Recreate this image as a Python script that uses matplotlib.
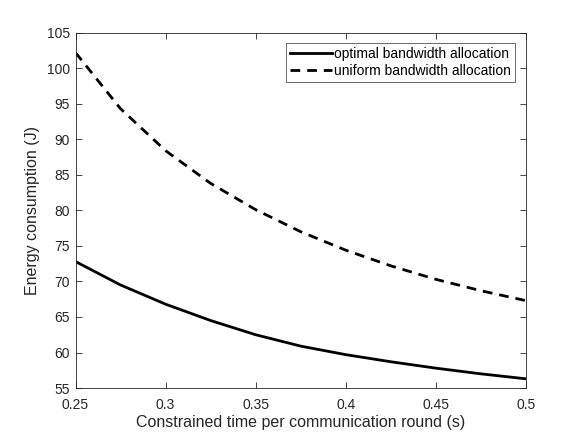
import matplotlib
matplotlib.use("Agg")
import matplotlib.pyplot as plt

# ── Data ──────────────────────────────────────────────────────────────────────
time_s = [0.25, 0.275, 0.3, 0.325, 0.35, 0.375, 0.4, 0.425, 0.45, 0.475, 0.5]
energy_optimal = [72.8, 69.5, 66.8, 64.5, 62.5, 60.9, 59.7, 58.7, 57.8, 57.0, 56.3]
energy_uniform = [102.2, 94.3, 88.4, 83.8, 80.1, 77.0, 74.4, 72.2, 70.3, 68.7, 67.3]

xticks = [0.25, 0.3, 0.35, 0.4, 0.45, 0.5]
xtick_labels = ["0.25", "0.3", "0.35", "0.4", "0.45", "0.5"]
yticks = [55, 60, 65, 70, 75, 80, 85, 90, 95, 100, 105]

plt.rcParams["font.family"] = ["Liberation Sans", "DejaVu Sans"]
AX_COLOR = "#262626"

fig = plt.figure(figsize=(5.81, 4.36), dpi=100)
ax = fig.add_axes([0.13, 0.11, 0.775, 0.815])

ax.plot(time_s, energy_optimal, "-", color="black", linewidth=2.0,
        label="optimal bandwidth allocation")
ax.plot(time_s, energy_uniform, "--", color="black", linewidth=2.0,
        dashes=(3.5, 2.5), label="uniform bandwidth allocation")

ax.set_xlim(0.25, 0.5)
ax.set_ylim(55, 105)
ax.set_xticks(xticks)
ax.set_xticklabels(xtick_labels)
ax.set_yticks(yticks)
ax.tick_params(direction="in", top=True, right=True, length=4, width=0.6,
               labelsize=10, colors=AX_COLOR)
ax.tick_params(axis="x", pad=7)
ax.tick_params(axis="y", pad=4)
for sp in ax.spines.values():
    sp.set_color(AX_COLOR)
    sp.set_linewidth(0.6)

ax.set_xlabel("Constrained time per communication round (s)", fontsize=11.5,
              color=AX_COLOR, labelpad=2)
ax.set_ylabel("Energy consumption (J)", fontsize=11.5, color=AX_COLOR, labelpad=5)

leg = ax.legend(loc="upper right", fontsize=10, frameon=True, fancybox=False,
                edgecolor=AX_COLOR, handlelength=3.0, handletextpad=0.2,
                borderpad=0.3, labelspacing=0.2, borderaxespad=0.75)
leg.get_frame().set_linewidth(0.6)

fig.savefig("out.png", dpi=100)
